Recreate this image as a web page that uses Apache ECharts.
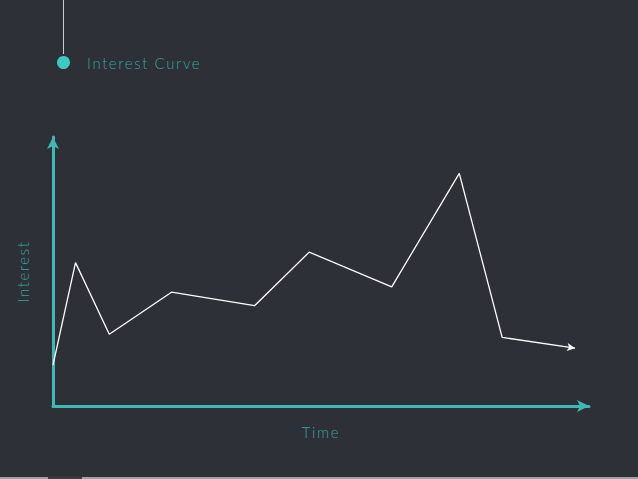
<!DOCTYPE html>
<html>
<head>
<meta charset="utf-8">
<script src="https://cdn.jsdelivr.net/npm/echarts@6/dist/echarts.min.js"></script>
<style>
html,body{margin:0;padding:0;background:#2d3037;}
#chart{width:638px;height:479px;}
#chart text{letter-spacing:1.6px;}
</style>
</head>
<body>
<div id="chart"></div>
<script>
// Data (time and interest, axis ranges 0..100)
const seriesName = 'Interest Curve';
const timeValues = [0, 4.2, 10.5, 22.1, 37.6, 47.8, 63.2, 75.8, 83.8, 97.4];
const interestValues = [15.2, 53.3, 26.7, 42.3, 37.3, 57.2, 44.3, 86.5, 25.5, 21.5];
const xAxisName = 'Time';
const yAxisName = 'Interest';

const teal = '#3fb9b1';
const tealText = '#38a39e';

const points = timeValues.map((t, i) => {
  const item = { value: [t, interestValues[i]] };
  if (i === timeValues.length - 1) {
    item.symbol = 'arrow';
    item.symbolSize = [6, 8];
    item.symbolRotate = -98;
    item.itemStyle = { color: '#ffffff' };
  }
  return item;
});

const chart = echarts.init(document.getElementById('chart'), null, { renderer: 'svg' });
chart.setOption({
  backgroundColor: '#2d3037',
  animation: false,
  textStyle: { fontFamily: 'Lato' },
  legend: {
    data: [{ name: seriesName, icon: 'circle' }],
    left: 52,
    top: 50,
    itemWidth: 13,
    itemHeight: 13,
    textStyle: { color: tealText, fontSize: 15, fontFamily: 'Lato', fontWeight: 300, padding: [0, 0, 0, 12] }
  },
  graphic: [
    { type: 'line', shape: { x1: 63.5, y1: 0, x2: 63.5, y2: 54 }, style: { stroke: '#c9cccf', lineWidth: 1 }, z: 10 },
    { type: 'rect', shape: { x: 0, y: 477, width: 638, height: 2 }, style: { fill: '#9ea3a8' } },
    { type: 'rect', shape: { x: 48, y: 477, width: 34, height: 2 }, style: { fill: '#3a3e44' } }
  ],
  grid: { left: 53, right: 49, top: 137, bottom: 73 },
  xAxis: {
    type: 'value', min: 0, max: 100,
    name: xAxisName, nameLocation: 'middle', nameGap: 18,
    nameTextStyle: { color: tealText, fontSize: 15, fontFamily: 'Lato', fontWeight: 300 },
    axisLine: { show: true, symbol: ['none', 'arrow'], symbolSize: [9, 12], lineStyle: { color: teal, width: 3 } },
    axisTick: { show: false }, axisLabel: { show: false }, splitLine: { show: false }
  },
  yAxis: {
    type: 'value', min: 0, max: 100,
    name: yAxisName, nameLocation: 'middle', nameGap: 23, nameRotate: 90,
    nameTextStyle: { color: tealText, fontSize: 15, fontFamily: 'Lato', fontWeight: 300 },
    axisLine: { show: true, symbol: ['none', 'arrow'], symbolSize: [9, 12], lineStyle: { color: teal, width: 3 } },
    axisTick: { show: false }, axisLabel: { show: false }, splitLine: { show: false }
  },
  series: [{
    name: seriesName,
    type: 'line',
    data: points,
    showSymbol: true,
    symbol: 'none',
    color: '#3ec8c0',
    lineStyle: { color: '#ffffff', width: 1.3 },
    z: 1
  }]
});
</script>
</body>
</html>
